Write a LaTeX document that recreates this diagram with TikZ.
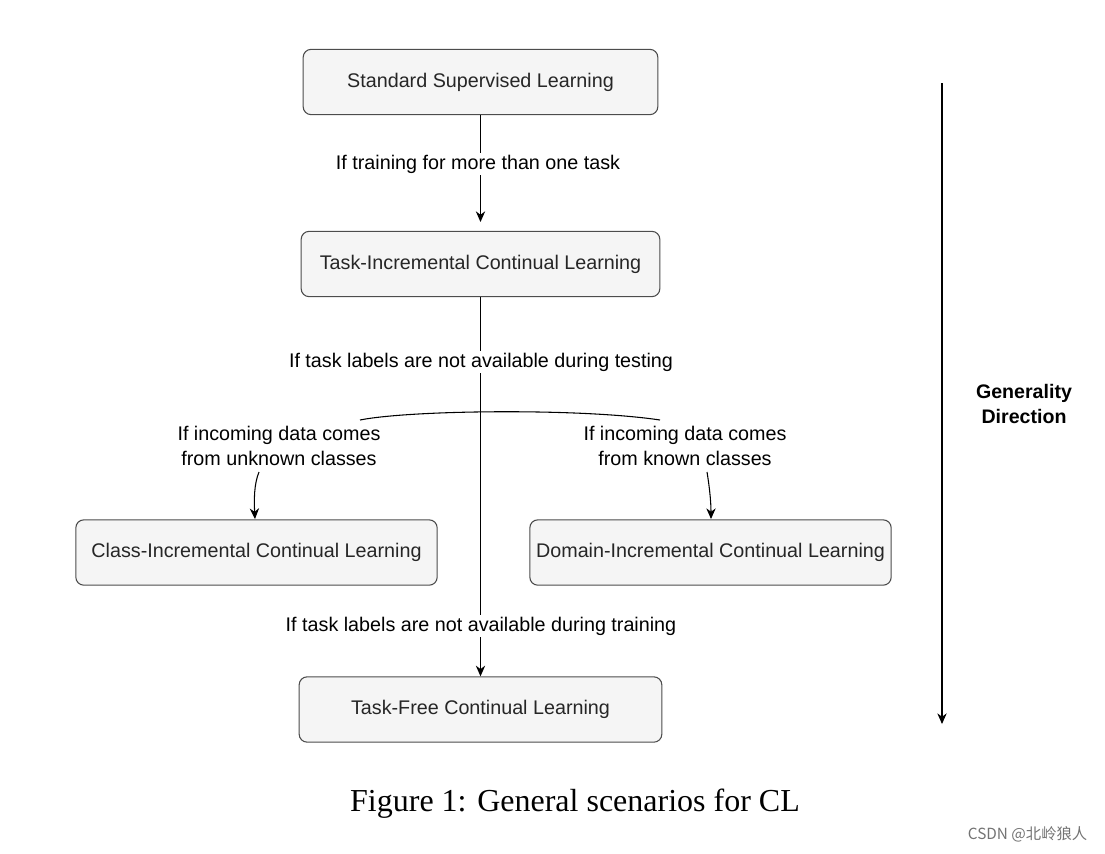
\documentclass[tikz,border=0pt]{standalone}
\usetikzlibrary{arrows.meta}
\usepackage{fontspec}
\setmainfont{Liberation Sans}
\newfontfamily\capfont{Liberation Serif}
\newfontfamily\cjk{Noto Sans CJK SC}
\begin{document}
\begin{tikzpicture}[x=0.75pt,y=-0.75pt,
  box/.style={draw=black!70,fill=black!4,rounded corners=6pt,line width=0.8pt,minimum height=49pt,inner sep=0pt,font=\fontsize{14.8}{17}\selectfont,text=black!85},
  lbl/.style={fill=white,inner sep=1pt,font=\fontsize{14.8}{18.5}\selectfont,align=center},
  arr/.style={-{Stealth[length=8pt,width=7pt]},line width=0.8pt}]
\useasboundingbox (0,0) rectangle (1105,853);
\node[box,minimum width=266pt] (ssl) at (480.5,82) {Standard Supervised Learning};
\node[box,minimum width=269pt] (ti) at (480.5,264) {Task-Incremental Continual Learning};
\node[box,minimum width=271pt] (ci) at (256.5,552.5) {Class-Incremental Continual Learning};
\node[box,minimum width=271pt] (di) at (710.5,552.5) {Domain-Incremental Continual Learning};
\node[box,minimum width=272pt] (tf) at (480.5,709.5) {Task-Free Continual Learning};
\coordinate (m1) at (480.5,222);
\draw[arr] (ssl.south) -- (m1);
\node[lbl] (l1) at (478,164) {If training for more than one task};
\draw[arr] (ti.south) -- (tf.north);
\node[lbl] (l2) at (481,362) {If task labels are not available during testing};
\node[lbl] (l5) at (481,626) {If task labels are not available during training};
\coordinate (cl) at (360,420);
\coordinate (cr) at (660,420);
\draw[line width=0.8pt] (cl) .. controls (410,410) and (580,408) .. (cr);
\node[lbl,fill=none] (l3) at (279,446) {If incoming data comes\\from unknown classes};
\node[lbl,fill=none] (l4) at (685,446) {If incoming data comes\\from known classes};
\coordinate (a1) at (259,472);
\coordinate (a2) at (707,472);
\coordinate (e1) at (255,519);
\coordinate (e2) at (711,519);
\draw[arr] (a1) .. controls (254,484) and (254,500) .. (e1);
\draw[arr] (a2) .. controls (709,484) and (711,500) .. (e2);
\coordinate (g1) at (942,83);
\coordinate (g2) at (942,724);
\draw[arr] (g1) -- (g2);
\node[font=\fontsize{14.7}{18.5}\selectfont\bfseries,align=center] (gd) at (1024,404) {Generality\\Direction};
\node[font=\capfont\fontsize{24}{28}\selectfont] (cap) at (575,804) {Figure 1: General scenarios for CL};
\node[font=\cjk\fontsize{11.5}{13}\selectfont,text=black!55,anchor=east] (wm) at (1092,834) {CSDN @北岭狼人};
\end{tikzpicture}
\end{document}
